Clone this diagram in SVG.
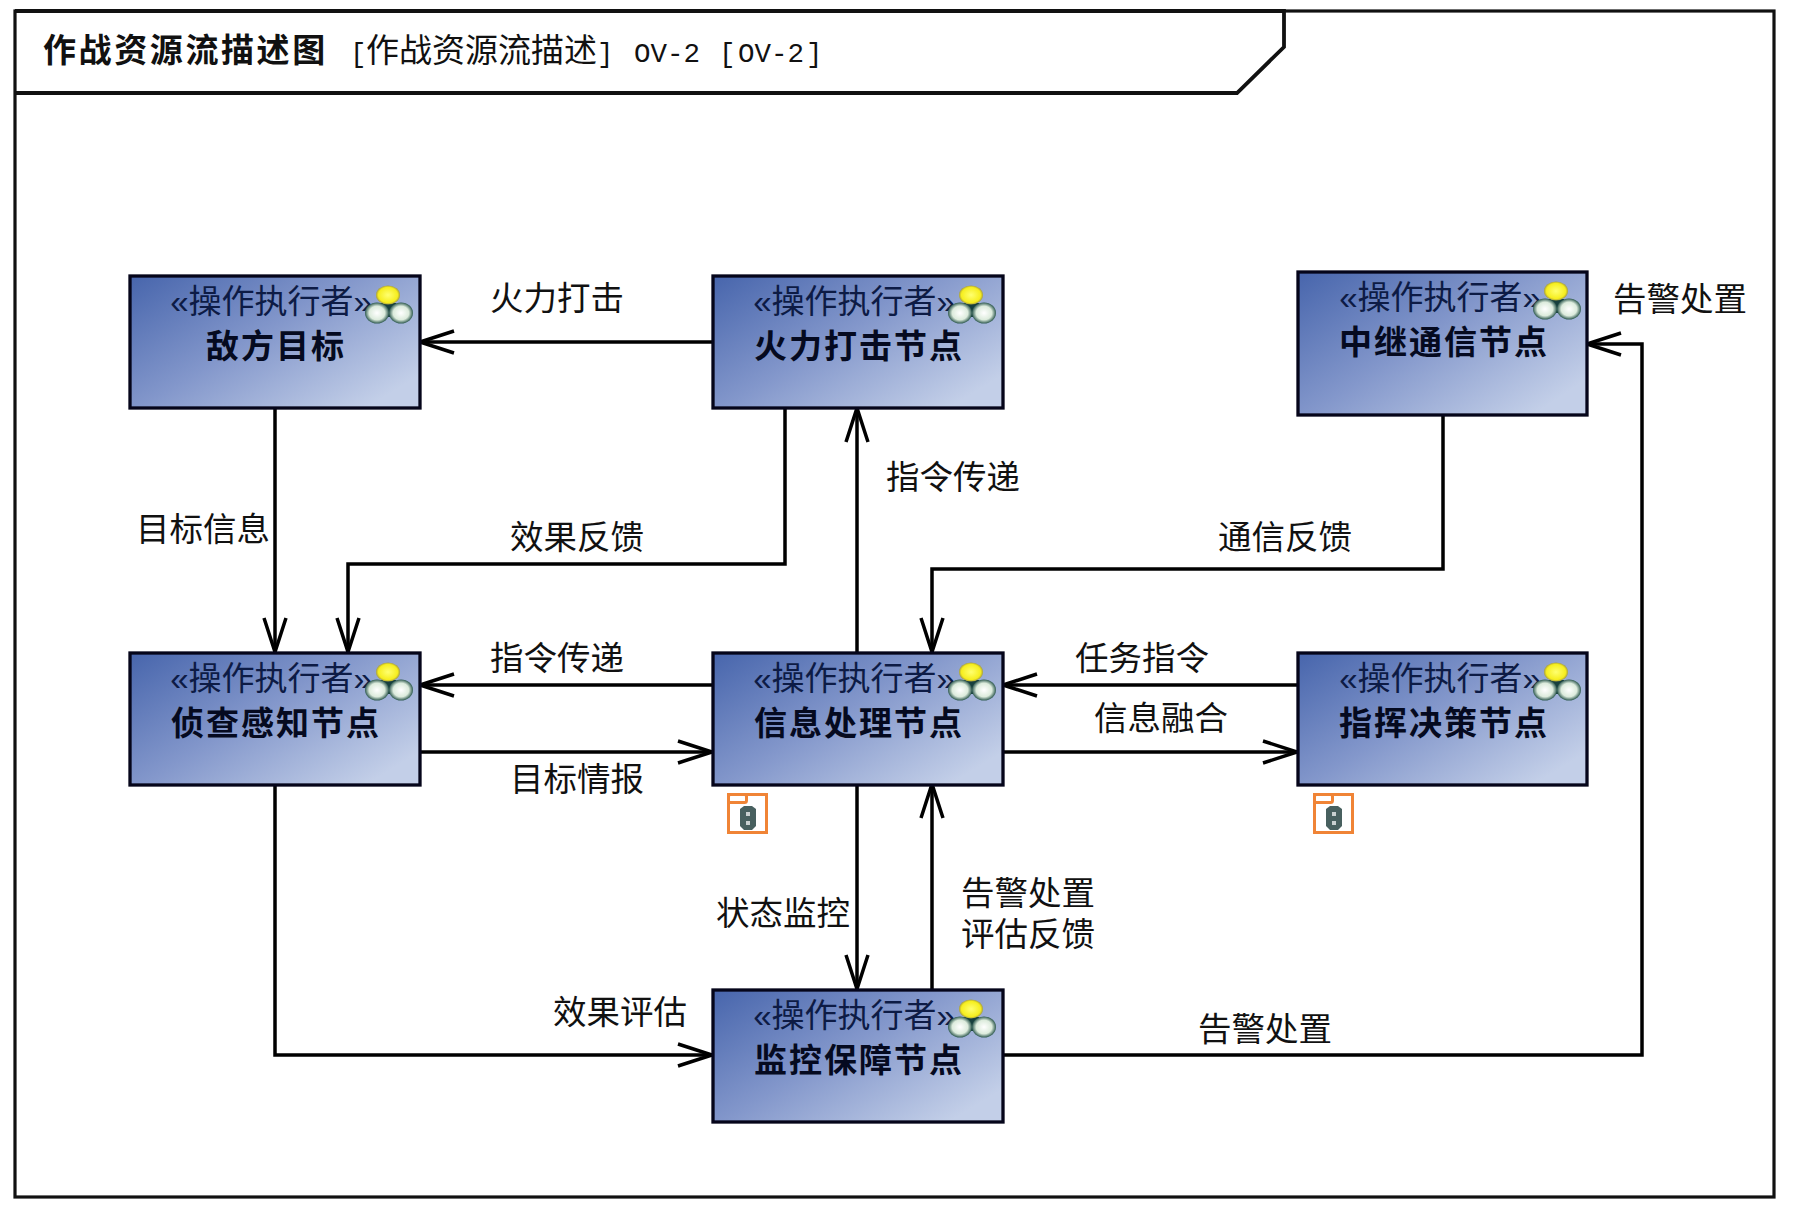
<svg xmlns="http://www.w3.org/2000/svg" width="1796" height="1209" viewBox="0 0 1796 1209">
<style>
text{font-family:"Noto Sans CJK SC","Noto Sans",sans-serif;fill:#111}
.lbl{font-size:33.500px;text-anchor:middle}
.st{font-family:"Liberation Sans","Noto Sans CJK SC",sans-serif;font-size:33px;text-anchor:middle;fill:#0d1b45}
.nm{font-size:33px;font-weight:700;text-anchor:middle;letter-spacing:2px;fill:#050a20}
.box{fill:url(#g);stroke:#05051a;stroke-width:3.300}
.c{fill:none;stroke:#000;stroke-width:3.500;marker-end:url(#a)}
.mono{font-family:"Liberation Mono",monospace;font-size:27.500px}
</style>
<defs>
<linearGradient id="g" x1="0" y1="0" x2="1" y2="0.75"><stop offset="0" stop-color="#4765ac"/><stop offset="0.5" stop-color="#8397cb"/><stop offset="1" stop-color="#c3cfe8"/></linearGradient>
<radialGradient id="gy"><stop offset="0" stop-color="#ffff70"/><stop offset="0.8" stop-color="#f6ee1e"/><stop offset="1" stop-color="#a8a040"/></radialGradient>
<radialGradient id="gw"><stop offset="0" stop-color="#fff"/><stop offset="0.65" stop-color="#dcebdc"/><stop offset="1" stop-color="#2f5a50"/></radialGradient>
<marker id="a" markerUnits="userSpaceOnUse" markerWidth="40" markerHeight="30" refX="35" refY="14" orient="auto"><path d="M1 3L35 14L1 25" fill="none" stroke="#000" stroke-width="3.500"/></marker>
<g id="ic"><rect x="380" y="303" width="16" height="14" fill="#173f3e"/><ellipse cx="388" cy="295" rx="12" ry="9.500" fill="url(#gy)"/><ellipse cx="377" cy="313" rx="12" ry="10.500" fill="url(#gw)"/><ellipse cx="401" cy="313" rx="12" ry="10.500" fill="url(#gw)"/></g>
<g id="doc"><rect x="1.500" y="1.500" width="38" height="38" fill="#fff" stroke="#f08436" stroke-width="3"/><rect x="1.500" y="1.500" width="18" height="8" rx="2" fill="#fff" stroke="#f08436" stroke-width="3"/><path d="M13 16L17 13H25L29 16V33L25 37H17L13 33Z" fill="#48605f"/><rect x="19" y="19" width="4" height="4" fill="#c9d0d0"/><rect x="19" y="28" width="4" height="4" fill="#c9d0d0"/></g>
</defs>
<rect width="1796" height="1209" fill="#fff"/>
<g id="frame">
<rect x="15" y="11" width="1759" height="1186" fill="none" stroke="#111" stroke-width="3.200"/>
<path d="M15 11H1284V47L1237 93H15" fill="none" stroke="#111" stroke-width="3.800"/>
<text x="43" y="62" font-size="33" font-weight="700" letter-spacing="2.600">作战资源流描述图</text>
<text x="350" y="62" font-size="33"><tspan class="mono">[</tspan><tspan x="366">作战资源流描述</tspan><tspan class="mono" x="597">]</tspan><tspan class="mono" x="634">OV-2</tspan><tspan class="mono" x="719">[</tspan><tspan class="mono" x="738">OV-2</tspan><tspan class="mono" x="806">]</tspan></text>
</g>
<g id="connectors">
<path class="c" d="M712 342H420"/>
<path class="c" d="M275 408V652"/>
<path class="c" d="M785 408V564H348V652"/>
<path class="c" d="M857 652V408"/>
<path class="c" d="M712 685H420"/>
<path class="c" d="M420 752H712"/>
<path class="c" d="M1443 415V569H932V652"/>
<path class="c" d="M1297 685H1003"/>
<path class="c" d="M1003 752H1297"/>
<path class="c" d="M857 784V989"/>
<path class="c" d="M932 989V784"/>
<path class="c" d="M275 784V1055H712"/>
<path class="c" d="M1003 1055H1642V344H1587"/>
</g>
<g id="labels">
<text class="lbl" x="557" y="310">火力打击</text>
<text class="lbl" x="203" y="541">目标信息</text>
<text class="lbl" x="577" y="549">效果反馈</text>
<text class="lbl" x="953" y="489">指令传递</text>
<text class="lbl" x="1285" y="549">通信反馈</text>
<text class="lbl" x="1680" y="311">告警处置</text>
<text class="lbl" x="557" y="670">指令传递</text>
<text class="lbl" x="1142" y="670">任务指令</text>
<text class="lbl" x="1161" y="730">信息融合</text>
<text class="lbl" x="577" y="791">目标情报</text>
<text class="lbl" x="783" y="925">状态监控</text>
<text class="lbl" y="905"><tspan x="1028">告警处置</tspan><tspan x="1028" dy="41">评估反馈</tspan></text>
<text class="lbl" x="620" y="1024">效果评估</text>
<text class="lbl" x="1265" y="1041">告警处置</text>
</g>
<g id="n1"><rect class="box" x="130" y="276" width="290" height="132"/><text class="st" x="271" y="313">«操作执行者»</text><text class="nm" x="276" y="358">敌方目标</text><use href="#ic"/></g>
<g id="n2"><rect class="box" x="713" y="276" width="290" height="132"/><text class="st" x="854" y="313">«操作执行者»</text><text class="nm" x="859" y="358">火力打击节点</text><use href="#ic" x="583"/></g>
<g id="n3"><rect class="box" x="1298" y="272" width="289" height="143"/><text class="st" x="1440" y="309">«操作执行者»</text><text class="nm" x="1444" y="354">中继通信节点</text><use href="#ic" x="1168" y="-4"/></g>
<g id="n4"><rect class="box" x="130" y="653" width="290" height="132"/><text class="st" x="271" y="690">«操作执行者»</text><text class="nm" x="276" y="735">侦查感知节点</text><use href="#ic" y="377"/></g>
<g id="n5"><rect class="box" x="713" y="653" width="290" height="132"/><text class="st" x="854" y="690">«操作执行者»</text><text class="nm" x="859" y="735">信息处理节点</text><use href="#ic" x="583" y="377"/></g>
<g id="n6"><rect class="box" x="1298" y="653" width="289" height="132"/><text class="st" x="1440" y="690">«操作执行者»</text><text class="nm" x="1444" y="735">指挥决策节点</text><use href="#ic" x="1168" y="377"/></g>
<g id="n7"><rect class="box" x="713" y="990" width="290" height="132"/><text class="st" x="854" y="1027">«操作执行者»</text><text class="nm" x="859" y="1072">监控保障节点</text><use href="#ic" x="583" y="714"/></g>
<g id="artifact1"><use href="#doc" x="727" y="793"/></g>
<g id="artifact2"><use href="#doc" x="1313" y="793"/></g>
</svg>
